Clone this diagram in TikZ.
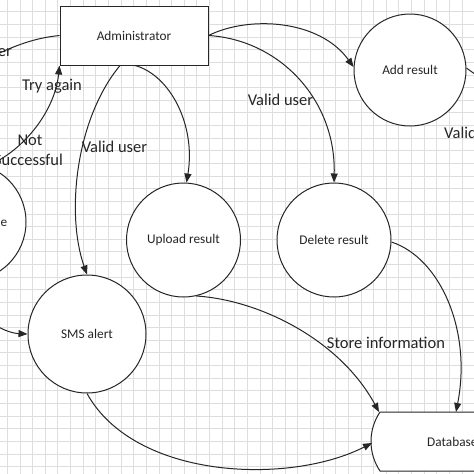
\documentclass[tikz,border=0pt]{standalone}
\usepackage{fontspec}
\setmainfont{Carlito}
\usetikzlibrary{arrows.meta}
\begin{document}
\begin{tikzpicture}[x=1pt,y=-1pt,
  gridline/.style={draw=black!13,line width=0.7pt},
  nodetext/.style={font=\fontsize{13.3}{15}\selectfont,text=black!85},
  proc/.style={circle,draw=black!85,line width=1pt,fill=white,inner sep=0pt,nodetext},
  entity/.style={rectangle,draw=black!85,line width=1pt,fill=white,inner sep=0pt,nodetext},
  flow/.style={draw=black!85,line width=1pt,-{Triangle[length=9pt,width=7pt]}},
  plainflow/.style={draw=black!85,line width=1pt},
  lbl/.style={font=\fontsize{16.5}{18}\selectfont,text=black!85,inner sep=0pt}]
\useasboundingbox (0,0) rectangle (474,474);
\clip (0,0) rectangle (474,474);
\fill[white] (0,0) rectangle (474,474);
% grid
\foreach \i in {0,...,37} {
  \draw[gridline] ({7.3+12.63*\i},0) -- ({7.3+12.63*\i},474);
  \draw[gridline] (0,{11.8+12.63*\i}) -- (474,{11.8+12.63*\i});
}
% nodes
\node[entity,minimum width=148pt,minimum height=59pt] (admin) at (134,35.5) {Administrator};
\node[proc,minimum size=112pt] (add) at (410,70) {Add result};
\node[proc,minimum size=114pt] (upload) at (183.5,240) {Upload result};
\node[proc,minimum size=114pt] (delete) at (334,240) {Delete result};
\node[proc,minimum size=118pt] (sms) at (87,334) {SMS alert};
\node[proc,minimum size=118pt] (login) at (-33,222) {};
\node[nodetext,anchor=east,inner sep=0pt] (logintext) at (7.5,223) {e};
% database store
\path[plainflow,fill=white] (500,412) -- (380,412) .. controls (368,430) and (368,453) .. (380,471) -- (500,471);
\coordinate (dbtl) at (379,412);
\coordinate (dbtop) at (456,412);
\coordinate (dbleft) at (372,443);
\node[nodetext,anchor=west,inner sep=0pt] (db) at (427,442) {Database};
\coordinate (erend) at (-15,60);
\coordinate (addout) at (490,84);
% connectors
\draw[flow] (admin.east) .. controls (250,15) and (320,20) .. (add.177);
\draw[flow] (admin.east) .. controls (280,40) and (336,100) .. (delete.north);
\draw[flow] ([xshift=1pt]admin.south) .. controls (170,75) and (196,125) .. (upload.87);
\draw[flow] ([xshift=-14pt]admin.south) .. controls (75,120) and (66,215) .. (sms.north);
\draw[flow] (login.70) .. controls (25,150) and (55,110) .. (admin.south west);
\draw[plainflow] (admin.west) .. controls (35,38) and (15,45) .. (erend);
\draw[plainflow] (add.2) .. controls (472,72) and (480,78) .. (addout);
\draw[flow] (login.south) .. controls (-28,318) and (5,333) .. (sms.west);
\draw[flow] (upload.-77) .. controls (260,300) and (340,340) .. (dbtl);
\draw[flow] (delete.-2) .. controls (440,258) and (472,330) .. (dbtop);
\draw[flow] (sms.south) .. controls (135,480) and (290,485) .. (dbleft);
% labels
\node[lbl] (tryagain) at (52,86) {Try again};
\node[lbl] (notl) at (30,140) {Not};
\node[lbl,anchor=east] (succ) at (63,160) {Successful};
\node[lbl] (valid1) at (114.5,147) {Valid user};
\node[lbl] (valid2) at (280.5,100) {Valid user};
\node[lbl,anchor=east] (erl) at (12,53) {er};
\node[lbl,anchor=west] (vali) at (444,133) {Valid};
\node[lbl] (store) at (386,343) {Store information};
\end{tikzpicture}
\end{document}
